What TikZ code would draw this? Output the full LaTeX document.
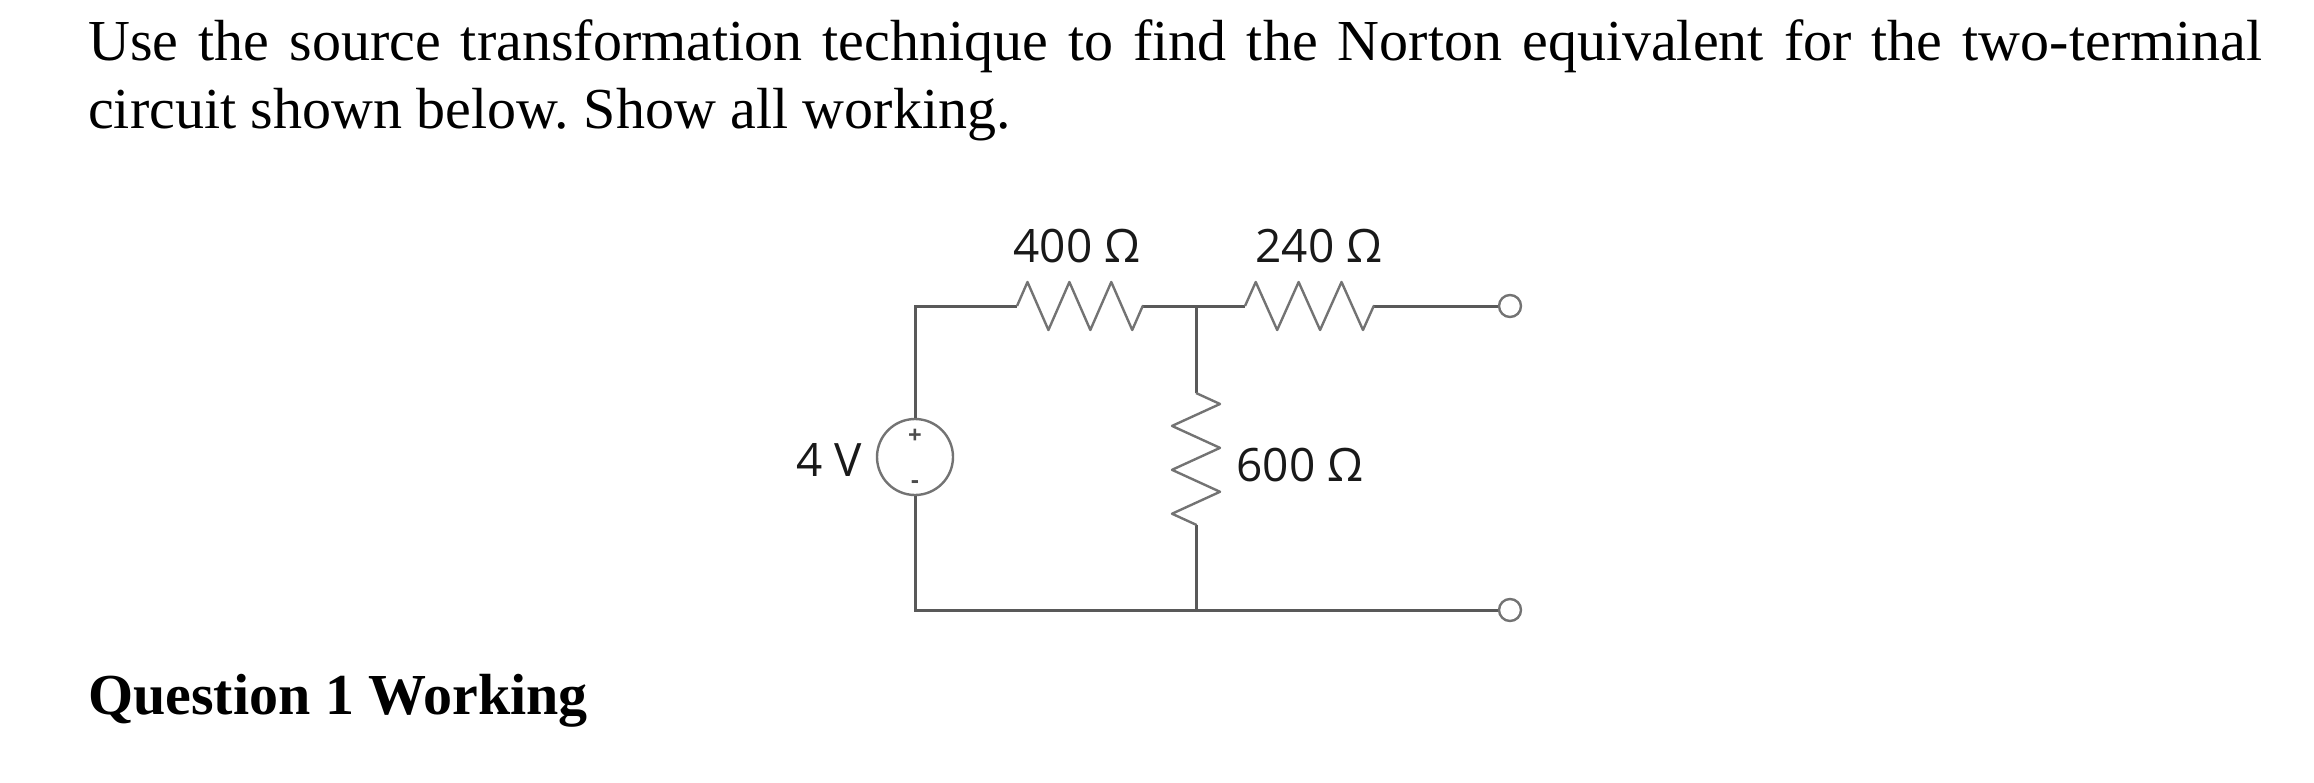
\documentclass[tikz,border=0pt]{standalone}
\usepackage{fontspec}
\setmainfont{Liberation Serif}
\newfontfamily\labelfont{Open Sans}
\usetikzlibrary{decorations.pathmorphing}

\tikzset{
  wire/.style={draw=black!65, line width=3pt},
  zig/.style={draw=black!55, line width=2.4pt, line join=round, decorate,
    decoration={zigzag, amplitude=24pt, segment length=#1}},
  value/.style={font=\labelfont\fontsize{46}{50}\selectfont, text=black!90, inner sep=0pt},
  line/.style={font=\fontsize{58}{66}\selectfont, text=black, anchor=base west, inner sep=0pt},
  terminal/.style={circle, draw=black!55, line width=2.4pt, fill=white, minimum size=22pt, inner sep=0pt},
  sign/.style={inner sep=0pt, text=black!70, font=\labelfont\bfseries\fontsize{24}{24}\selectfont},
}

\begin{document}
\frenchspacing
\begin{tikzpicture}[x=1pt, y=-1pt]
  \useasboundingbox (0, 0) rectangle (2314, 782);

  \node[line] (first) at (88, 60) {\makebox[2174pt][s]{Use the source transformation technique to find the Norton equivalent for the two-terminal}};
  \node[line] (second) at (88, 128) {circuit shown below. Show all working.};
  \node[line, font=\bfseries\fontsize{58}{66}\selectfont] (head) at (88, 714) {Question 1 Working};

  \node[circle, draw=black!55, line width=2.4pt, minimum size=76pt, inner sep=0pt] (vs) at (915, 457) {};
  \node[sign] (plus) at (915, 436) {+};
  \node[sign] (minus) at (915, 485) {-};

  \coordinate (lt) at (915, 306);
  \coordinate (lb) at (915, 610);
  \coordinate (jt) at (1196, 306);
  \coordinate (jb) at (1196, 610);

  \coordinate (r1a) at (1017, 306);
  \coordinate (r1b) at (1143, 306);
  \coordinate (r2a) at (1245, 306);
  \coordinate (r2b) at (1374, 306);
  \coordinate (r3a) at (1196, 393);
  \coordinate (r3b) at (1196, 525);

  \node[terminal] (ta) at (1510, 306) {};
  \node[terminal] (tb) at (1510, 610) {};

  \draw[wire] (vs) -- (lt) -- (r1a);
  \draw[wire] (r1b) -- (r2a);
  \draw[wire] (r2b) -- (ta);
  \draw[wire] (jt) -- (r3a);
  \draw[wire] (r3b) -- (jb);
  \draw[wire] (vs) -- (lb) -- (tb);

  \draw[zig=41.9pt] (r1a) -- (r1b);
  \draw[zig=42.9pt] (r2a) -- (r2b);
  \draw[zig=43.9pt] (r3a) -- (r3b);

  \node[value] (r1) at (1077, 246) {400 Ω};
  \node[value] (r2) at (1319, 246) {240 Ω};
  \node[value] (r3) at (1300, 465) {600 Ω};
  \node[value] (v) at (829, 460) {4 V};
\end{tikzpicture}
\end{document}
